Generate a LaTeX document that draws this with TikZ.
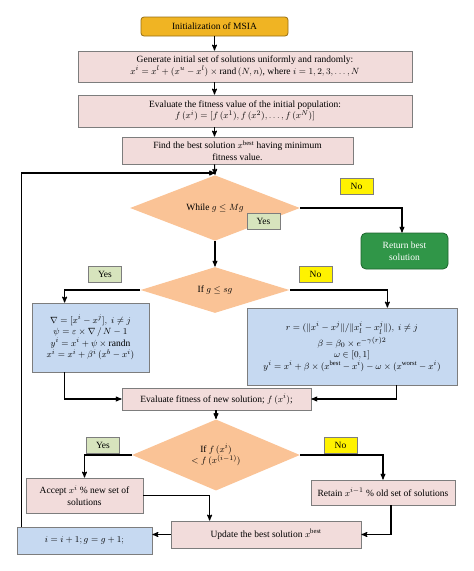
\documentclass[tikz,border=0pt]{standalone}
\usepackage{fontspec}
\setmainfont{Liberation Serif}
\usepackage{amsmath}
\usepackage{tikz}
\usetikzlibrary{arrows, positioning, shapes.geometric}

\definecolor{initgold}{RGB}{240,180,35}
\definecolor{initedge}{RGB}{150,110,20}
\definecolor{boxpink}{RGB}{242,220,219}
\definecolor{boxedge}{RGB}{125,125,125}
\definecolor{decpeach}{RGB}{250,195,150}
\definecolor{calcblue}{RGB}{198,217,241}
\definecolor{retgreen}{RGB}{48,150,72}
\definecolor{retedge}{RGB}{30,100,45}
\definecolor{yesgreen}{RGB}{215,228,189}
\definecolor{noyellow}{RGB}{255,242,0}

\tikzset{
    base/.style={font=\fontsize{9.5}{11.5}\selectfont, align=center, inner sep=0pt, line width=0.8pt},
    pinkbox/.style={base, rectangle, fill=boxpink, draw=boxedge},
    bluebox/.style={base, rectangle, fill=calcblue, draw=boxedge},
    decision/.style={base, diamond, fill=decpeach, draw=none},
    yeslabel/.style={base, rectangle, fill=yesgreen, draw=boxedge, minimum width=33pt, minimum height=16pt},
    nolabel/.style={base, rectangle, fill=noyellow, draw=boxedge, minimum width=33pt, minimum height=16pt},
    flow/.style={->, >=stealth', line width=1.1pt, black}
}

\begin{document}
\begin{tikzpicture}[x=1pt, y=-1pt]
    \useasboundingbox (0,0) rectangle (474,571);

    % start and first steps
    \node (init) at (214.5,26.5) [base, rounded corners=3pt, fill=initgold, draw=initedge,
        minimum width=147pt, minimum height=19pt] {Initialization of MSIA};
    \node (gen) at (245,66.5) [pinkbox, minimum width=334pt, minimum height=31pt]
        {Generate initial set of solutions uniformly and randomly:\\
         $x^i = x^l + (x^u - x^l) \times \mathrm{rand}\,(N, n)$, where $i = 1, 2, 3, \ldots, N$};
    \node (evalpop) at (245,111) [pinkbox, minimum width=334pt, minimum height=32pt]
        {Evaluate the fitness value of the initial population:\\
         $f\,(x^i) = [f\,(x^1), f\,(x^2), \ldots, f\,(x^N)]$};
    \node (findbest) at (237.5,150.5) [pinkbox, minimum width=231pt, minimum height=27pt]
        {Find the best solution $x^{\mathrm{best}}$ having minimum\\ fitness value.};
    \coordinate (loopin) at (215,173);

    % main loop test
    \node (while) at (215,208) [decision, minimum width=170pt, minimum height=42pt] {While $g \leq Mg$};
    \node (ret) at (404.5,251) [base, rounded corners=5pt, fill=retgreen, draw=retedge, text=white,
        minimum width=87pt, minimum height=36pt] {Return best\\ solution};
    \node (nowhile) at (356.5,186) [nolabel] {No};
    \node (yeswhile) at (263.5,221) [yeslabel] {Yes};

    % branch on g
    \node (ifsg) at (215,290) [decision, minimum width=149pt, minimum height=46pt] {If $g \leq sg$};
    \node (yessg) at (105,274) [yeslabel] {Yes};
    \node (nosg) at (315.5,274) [nolabel] {No};
    \node (leftup) at (90.5,337.5) [bluebox, minimum width=117pt, minimum height=69pt]
        {$\nabla = [x^i - x^j],\ i \neq j$\\
         $\psi = \varepsilon \times \nabla \,/\, N - 1$\\
         $y^i = x^i + \psi \times \mathrm{randn}$\\
         $x^i = x^i + \beta^i\,(x^b - x^i)$};
    \node (rightup) at (352,346.5) [bluebox, minimum width=210pt, minimum height=77pt]
        {$r = (\|x^i - x^j\| / \|x^i_l - x^j_l\|),\ i \neq j$\\[2pt]
         $\beta = \beta_0 \times e^{-\gamma(r)2}$\\
         $\omega \in [0, 1]$\\
         $y^i = x^i + \beta \times (x^{\mathrm{best}} - x^i) - \omega \times (x^{\mathrm{worst}} - x^i)$};
    \node (evalnew) at (216.5,399) [pinkbox, minimum width=189pt, minimum height=22pt]
        {Evaluate fitness of new solution; $f\,(x^i)$;};

    % acceptance test
    \node (iff) at (216,455) [decision, minimum width=168pt, minimum height=64pt]
        {If $f\,(x^i)$\\ $< f\,(x^{(i-1)})$};
    \node (yesf) at (103,445) [yeslabel] {Yes};
    \node (nof) at (340.5,445) [nolabel] {No};
    \node (accept) at (84.5,495.5) [pinkbox, minimum width=117pt, minimum height=35pt]
        {Accept $x^i$ \% new set of\\ solutions};
    \node (retain) at (383,492.5) [pinkbox, minimum width=144pt, minimum height=25pt]
        {Retain $x^{i-1}$ \% old set of solutions};
    \node (update) at (266,534.5) [pinkbox, minimum width=190pt, minimum height=27pt]
        {Update the best solution $x^{\mathrm{best}}$};
    \node (counter) at (84.5,540.5) [bluebox, minimum width=135pt, minimum height=27pt]
        {$i = i + 1; g = g + 1;$};

    % connectors
    \draw[flow] (init) -- (init |- gen.north);
    \draw[flow] (init |- gen.south) -- (init |- evalpop.north);
    \draw[flow] (init |- evalpop.south) -- (init |- findbest.north);
    \draw[flow] (init |- findbest.south) -- (while.north);
    \draw[flow] (while.east) -| ([xshift=-2.5pt]ret.north);
    \draw[flow] (while.south) -- (ifsg.north);
    \draw[flow] (ifsg.west) -| ([xshift=33pt]leftup.north west);
    \draw[flow] (ifsg.east) -| ([xshift=-70pt]rightup.north east);
    \draw[flow] ([xshift=33pt]leftup.south west) |- (evalnew.west);
    \draw[flow] ([xshift=-61pt]rightup.south east) |- (evalnew.east);
    \draw[flow] (evalnew.south -| iff) -- (iff.north);
    \draw[flow] (iff.west) -| (accept.north);
    \draw[flow] (iff.east) -| (retain.north);
    \draw[flow] (accept.east) -| ([xshift=39pt]update.north west);
    \draw[flow] ([xshift=8pt]retain.south) |- (update.east);
    \draw[flow] (update.west) -- (update.west -| counter.east);
    \draw[flow] ([xshift=5pt]counter.north west) |- (loopin);
\end{tikzpicture}
\end{document}
